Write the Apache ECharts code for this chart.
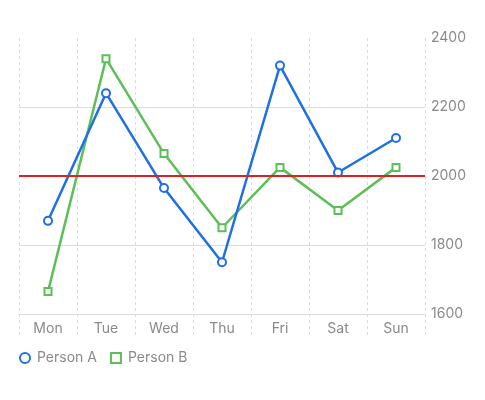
<!DOCTYPE html>
<html><head><meta charset="utf-8">
<script src="https://cdn.jsdelivr.net/npm/echarts@6/dist/echarts.min.js"></script>
<style>html,body{margin:0;padding:0;background:#fff;}#c{width:485px;height:400px;}</style>
</head><body><div id="c"></div>
<script>
const categories = ['Mon','Tue','Wed','Thu','Fri','Sat','Sun'];
const personA = [1870, 2240, 1965, 1750, 2320, 2010, 2110];
const personB = [1665, 2340, 2065, 1850, 2025, 1900, 2025];
const refValue = 2000;
const yTicks = {min: 1600, max: 2400, interval: 200};

const FONT = 'Inter';
const chart = echarts.init(document.getElementById('c'));
chart.setOption({
  animation: false,
  grid: {left: 19, right: 60, top: 38, bottom: 86},
  legend: {
    left: 14, top: 346, itemWidth: 10, itemHeight: 10, itemGap: 13,
    textStyle: {color: '#8a8a8a', fontSize: 14, fontFamily: FONT, padding: [0, 0, 0, 2]},
    data: [{name: 'Person A', icon: 'emptyCircle'}, {name: 'Person B', icon: 'emptyRect'}]
  },
  xAxis: {
    type: 'category', data: categories, boundaryGap: true,
    axisLine: {show: true, lineStyle: {color: '#dcdcdc'}},
    axisTick: {show: true, interval: 0, length: 24, lineStyle: {color: '#dcdcdc', type: [3,3]}},
    axisLabel: {color: '#8a8a8a', fontSize: 14, fontFamily: FONT, margin: 8},
    splitLine: {show: true, interval: 0, lineStyle: {color: '#dcdcdc', type: [3,3]}}
  },
  yAxis: {
    type: 'value', position: 'right', min: yTicks.min, max: yTicks.max, interval: yTicks.interval,
    axisLine: {show: false}, axisTick: {show: false},
    axisLabel: {color: '#8a8a8a', fontSize: 14, fontFamily: FONT, margin: 6, formatter: v => String(v)},
    splitLine: {show: true, showMaxLine: false, lineStyle: {color: '#dcdcdc'}}
  },
  series: [
    {
      name: 'Person A', type: 'line', data: personA,
      symbol: 'emptyCircle', symbolSize: 8,
      lineStyle: {color: '#1f6fe5', width: 2.5},
      itemStyle: {color: '#1f6fe5', borderWidth: 2.5},
      markLine: {
        silent: true, symbol: 'none', label: {show: false},
        lineStyle: {color: '#e02020', width: 2, type: 'solid'},
        data: [{yAxis: refValue}]
      },
      z: 3
    },
    {
      name: 'Person B', type: 'line', data: personB,
      symbol: 'emptyRect', symbolSize: 7,
      lineStyle: {color: '#5cbf58', width: 2.5},
      itemStyle: {color: '#5cbf58', borderWidth: 2.5},
      z: 2
    }
  ]
});
</script></body></html>
